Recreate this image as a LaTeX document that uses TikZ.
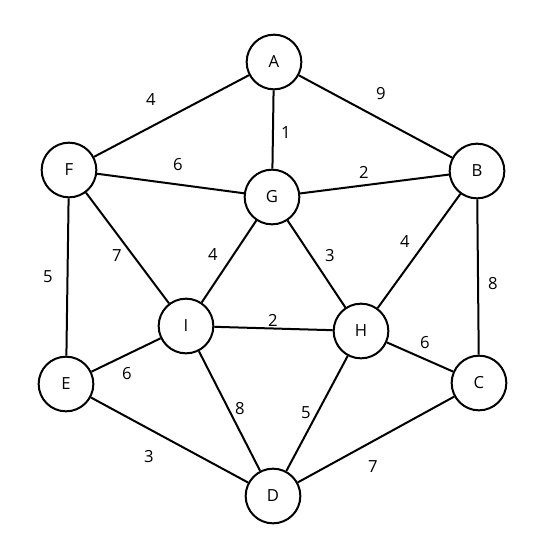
\documentclass[tikz,border=0pt]{standalone}
\usepackage{fontspec}
\setmainfont{Open Sans}
\begin{document}
\begin{tikzpicture}[
      x=0.75pt, y=-0.75pt,
      knoten/.style={circle, draw=black, line width=1.5pt, minimum size=41pt, inner sep=0pt, font=\fontsize{12.5}{14}\selectfont},
      kante/.style={black, line width=1.5pt},
      gewicht/.style={font=\fontsize{12.5}{14}\selectfont, inner sep=1pt}
    ]
    % Rahmen in Pixeln des Vorbilds (549 x 551)
    \useasboundingbox (0,0) rectangle (549,551);

    % ---------- Knoten ----------
    \foreach \n/\x/\y in {A/274/62, B/477/171, C/479/383, D/273/496, E/66/384,
                          F/69/170, G/272/197, H/361/331, I/186/326}{
      \node[knoten] (\n) at (\x,\y) {\n};
    }

    % ---------- Kanten mit Gewichten ----------
    % Anfang/Ende/Gewicht/Lage der Zahl
    \foreach \a/\b/\w/\lx/\ly in {A/F/4/151/100, A/B/9/381/94, A/G/1/286/133,
                                  F/G/6/178/165, G/B/2/364/172, F/E/5/48/277,
                                  F/I/7/117/256, G/I/4/213/255, G/H/3/330/256,
                                  B/H/4/405/242, B/C/8/493/284, I/H/2/273/320,
                                  H/C/6/425/343, E/I/6/127/374, I/D/8/240/409,
                                  H/D/5/306/413, E/D/3/149/457, D/C/7/373/467}{
      \draw[kante] (\a) -- (\b);
      \node[gewicht] (w\a\b) at (\lx,\ly) {\w};
    }
  \end{tikzpicture}
\end{document}
